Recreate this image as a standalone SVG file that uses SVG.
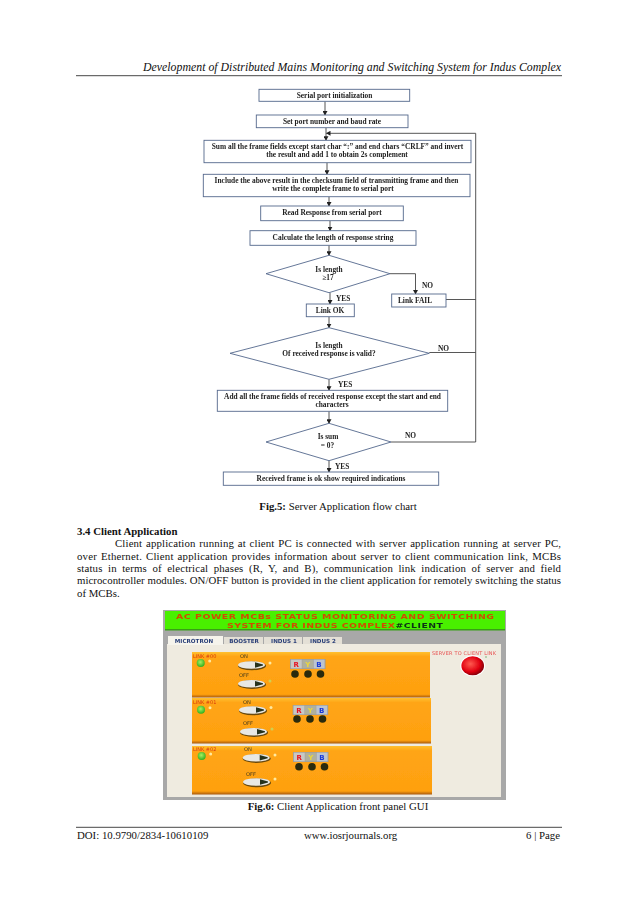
<svg xmlns="http://www.w3.org/2000/svg" xmlns:xlink="http://www.w3.org/1999/xlink" width="638" height="902" viewBox="0 0 638 902">
<style>
text{font-family:"Liberation Serif","Times New Roman",serif;fill:#111}
.body{font-size:10.8px}
.hd{font-size:11.8px;font-style:italic}
.cap{font-size:10.8px}
.b{font-weight:bold}
.fc{font-size:7.4px;font-weight:bold;text-anchor:middle;fill:#222}
.fl{font-size:7.4px;font-weight:bold;fill:#222}
.n{fill:#fff;stroke:#54688c;stroke-width:.9}
.c{fill:none;stroke:#444;stroke-width:.9}
.g text,.rgb{font-family:"DejaVu Sans",sans-serif}
.ban{font-size:7.8px;font-weight:bold;fill:#d04c00;text-anchor:middle}
.tab{font-size:5.6px;font-weight:bold;fill:#2a3f78;text-anchor:middle}
.lk{font-size:5px;fill:#d83a10}
.on{font-size:5.2px;fill:#443a20}
.rgb{font-size:7px;font-weight:bold;text-anchor:middle}
</style>
<defs>
<marker id="a" markerWidth="5" markerHeight="5" refX="4" refY="2.5" orient="auto" markerUnits="userSpaceOnUse"><path d="M0 0L4.5 2.5L0 5z" fill="#222"/></marker>
<filter id="s" x="-5%" y="-5%" width="110%" height="110%"><feGaussianBlur stdDeviation=".35"/></filter>
<filter id="s2" x="-5%" y="-5%" width="110%" height="110%"><feGaussianBlur stdDeviation=".45"/></filter>
<radialGradient id="gr" cx=".4" cy=".4" r=".6"><stop offset="0" stop-color="#ff5a50"/><stop offset=".7" stop-color="#e00010"/><stop offset="1" stop-color="#8c0008"/></radialGradient>
<radialGradient id="gl" cx=".45" cy=".4" r=".6"><stop offset="0" stop-color="#a8f060"/><stop offset="1" stop-color="#30b020"/></radialGradient>
<linearGradient id="or" x1="0" y1="0" x2="0" y2="1"><stop offset="0" stop-color="#ffc030"/><stop offset=".1" stop-color="#ffa514"/><stop offset=".93" stop-color="#ffa010"/><stop offset="1" stop-color="#a85808"/></linearGradient>
<g id="tog"><ellipse cx="0" cy=".8" rx="14" ry="4.4" fill="#6a4a10"/><ellipse cx="-.5" cy="0" rx="13.500" ry="3.800" fill="#e8e8e4"/><path d="M3 -2.800L11 -.5L11 .5L3 2.800z" fill="#26331f"/></g>
<g id="led"><circle r="4" fill="url(#gl)"/><circle cx="9" cy="-2" r="1.500" fill="#ffe9a0"/></g>
<g id="blk"><circle cx="0" r="3.800" fill="#2a2a10"/><circle cx="13" r="3.800" fill="#2a2a10"/><circle cx="25.500" r="3.800" fill="#2a2a10"/></g>
<g id="ryb"><rect width="35.500" height="10" fill="#9a9a9a"/><rect x=".8" y=".6" width="11" height="8.800" fill="#c8c8c4"/><rect x="12.200" y=".6" width="11" height="8.800" fill="#b0b09c"/><rect x="23.600" y=".6" width="11" height="8.800" fill="#bcc4d0"/><text class="rgb" x="6.300" y="7.800" style="fill:#e81020">R</text><text class="rgb" x="17.700" y="7.800" style="fill:#ecd83a">Y</text><text class="rgb" x="29" y="7.800" style="fill:#1838d8">B</text></g>
</defs>
<rect width="638" height="902" fill="#fff"/>
<g id="page-header">
<text class="hd" x="143" y="71" textLength="418">Development of Distributed Mains Monitoring and Switching System for Indus Complex</text>
<path d="M76 75.700H562" stroke="#333" stroke-width=".9"/>
</g>
<g filter="url(#s)">
<g id="connectors">
<path class="c" marker-end="url(#a)" d="M325 101.500V115"/>
<path class="c" marker-end="url(#a)" d="M326 127.700V140.300"/>
<path class="c" marker-end="url(#a)" d="M475.700 288V133.300H326.500"/>
<path class="c" marker-end="url(#a)" d="M327 162.700V174.300"/>
<path class="c" marker-end="url(#a)" d="M329 196.700V206"/>
<path class="c" marker-end="url(#a)" d="M330 220.700V230.700"/>
<path class="c" marker-end="url(#a)" d="M329 245.300V255.300"/>
<path class="c" marker-end="url(#a)" d="M390 273.700H415.500V294"/>
<path class="c" marker-end="url(#a)" d="M330 292.700V304"/>
<path class="c" d="M446 299.500H475.700"/>
<path class="c" marker-end="url(#a)" d="M329 316.700V327.700"/>
<path class="c" d="M429.300 352.500H475.700"/>
<path class="c" marker-end="url(#a)" d="M329 379.300V390.300"/>
<path class="c" marker-end="url(#a)" d="M329 411.300V423.300"/>
<path class="c" d="M391 442H475.700V288"/>
<path class="c" marker-end="url(#a)" d="M329 460.700V472"/>
<text class="fl" x="422" y="288">NO</text>
<text class="fl" x="336" y="300.500">YES</text>
<text class="fl" x="438" y="351">NO</text>
<text class="fl" x="338" y="387">YES</text>
<text class="fl" x="405" y="438">NO</text>
<text class="fl" x="335" y="469">YES</text>
</g>
<g id="n1"><rect class="n" x="259" y="89.300" width="150.700" height="12"/><text class="fc" x="334.500" y="97.800">Serial port initialization</text></g>
<g id="n2"><rect class="n" x="256.300" y="115" width="151.700" height="12.700"/><text class="fc" x="332" y="124">Set port number and baud rate</text></g>
<g id="n3"><rect class="n" x="204" y="140.300" width="267" height="22.400"/><text class="fc" x="337.500" y="149">Sum all the frame fields except start char “:” and end chars “CRLF” and invert</text><text class="fc" x="337" y="157">the result and add 1 to obtain 2s complement</text></g>
<g id="n4"><rect class="n" x="203.300" y="174.300" width="266.700" height="22.400"/><text class="fc" x="336.500" y="183">Include the above result in the checksum field of transmitting frame and then</text><text class="fc" x="333" y="191">write the complete frame to serial port</text></g>
<g id="n5"><rect class="n" x="260.700" y="206" width="142.600" height="14.700"/><text class="fc" x="332" y="214.800">Read Response from serial port</text></g>
<g id="n6"><rect class="n" x="250" y="230.700" width="166" height="14.600"/><text class="fc" x="333" y="239.500">Calculate the length of response string</text></g>
<g id="d1"><path class="n" d="M329 255.300L390 273.700L329 292.700L266 273.700z"/><text class="fc" x="329" y="271.500">Is length</text><text class="fc" x="328" y="279.500">≥17</text></g>
<g id="n7"><rect class="n" x="306.300" y="304" width="48" height="12.700"/><text class="fc" x="330" y="312.800">Link OK</text></g>
<g id="n8"><rect class="n" x="391.700" y="294" width="54.300" height="13"/><text class="fc" x="415" y="303">Link FAIL</text></g>
<g id="d2"><path class="n" d="M329 327.700L429.300 353.300L329 379.300L230 353.300z"/><text class="fc" x="329" y="347.500">Is length</text><text class="fc" x="329" y="356">Of received response is valid?</text></g>
<g id="n9"><rect class="n" x="217.300" y="390.300" width="230.400" height="21"/><text class="fc" x="332.500" y="398.700">Add all the frame fields of received response except the start and end</text><text class="fc" x="332" y="406.500">characters</text></g>
<g id="d3"><path class="n" d="M329 423.300L391 442L329 460.700L266 442z"/><text class="fc" x="328" y="439">Is sum</text><text class="fc" x="327.500" y="447.500">= 0?</text></g>
<g id="n10"><rect class="n" x="223.300" y="472" width="215.400" height="13.300"/><text class="fc" x="331" y="480.800">Received frame is ok show required indications</text></g>
</g>
<g id="page-text">
<text class="cap" x="338" y="510" text-anchor="middle"><tspan class="b">Fig.5:</tspan> Server Application flow chart</text>
<text class="body b" x="77" y="535">3.4 Client Application</text>
<text class="body" x="115" y="547" textLength="446" style="word-spacing:.9px">Client application running at client PC is connected with server application running at server PC,</text>
<text class="body" x="77" y="559.500" textLength="484" style="word-spacing:1.1px">over Ethernet. Client application provides information about server to client communication link, MCBs</text>
<text class="body" x="77" y="572" textLength="484" style="word-spacing:2.6px">status in terms of electrical phases (R, Y, and B), communication link indication of server and field</text>
<text class="body" x="77" y="584" textLength="484">microcontroller modules. ON/OFF button is provided in the client application for remotely switching the status</text>
<text class="body" x="77" y="596.500">of MCBs.</text>
</g>
<g id="gui" class="g" filter="url(#s2)">
<rect x="163" y="610" width="343" height="190" fill="#a8a8a8"/>
<rect x="165" y="611" width="340" height="19" fill="#48f000"/>
<rect x="165" y="629" width="340" height="1.500" fill="#38a018"/>
<text class="ban" transform="translate(335 619) scale(1.2 1)" textLength="265">AC POWER MCBs STATUS MONITORING AND SWITCHING</text>
<text class="ban" transform="translate(335 628) scale(1.2 1)" textLength="180">SYSTEM FOR INDUS COMPLEX<tspan style="fill:#103018">#CLIENT</tspan></text>
<rect x="167" y="644" width="334" height="153" fill="#efebe0"/>
<rect x="168" y="636" width="55" height="9" fill="#f6f4ec"/>
<rect x="224" y="637" width="39" height="7" fill="#e4e0d6"/>
<rect x="264" y="637" width="38" height="7" fill="#e4e0d6"/>
<rect x="303" y="637" width="39" height="7" fill="#e4e0d6"/>
<text class="tab" x="194" y="642.800">MICROTRON</text>
<text class="tab" x="244" y="642.800">BOOSTER</text>
<text class="tab" x="284" y="642.800">INDUS 1</text>
<text class="tab" x="323" y="642.800">INDUS 2</text>
<text class="lk" x="432" y="654.500" textLength="64" style="fill:#e85050">SERVER TO CLIENT LINK</text>
<ellipse cx="472.700" cy="665.800" rx="12.500" ry="10.500" fill="#fff"/>
<ellipse cx="472.700" cy="665.800" rx="11.300" ry="9.500" fill="url(#gr)"/>
<circle cx="486" cy="657" r=".8" fill="#70b070"/>
<rect x="192" y="652" width="238" height="45.500" fill="url(#or)"/>
<rect x="192" y="698" width="239" height="45.500" fill="url(#or)"/>
<rect x="192" y="746" width="240" height="48.500" fill="url(#or)"/>
<g id="row0">
<text class="lk" x="193" y="657.800">LINK #00</text>
<use xlink:href="#led" href="#led" x="200.700" y="663"/>
<text class="on" x="240" y="657.800">ON</text>
<use xlink:href="#tog" href="#tog" x="252" y="665"/>
<circle cx="270" cy="663" r="1.500" fill="#ffe9a0"/>
<text class="on" x="239" y="676.500">OFF</text>
<use xlink:href="#tog" href="#tog" x="252" y="683.700"/>
<circle cx="270" cy="681" r="1.500" fill="#d0d050"/>
<use xlink:href="#ryb" href="#ryb" x="290" y="659"/>
<use xlink:href="#blk" href="#blk" x="295" y="674"/>
</g>
<g id="row1">
<text class="lk" x="193" y="703.800">LINK #01</text>
<use xlink:href="#led" href="#led" x="201" y="709.700"/>
<text class="on" x="243" y="703.500">ON</text>
<use xlink:href="#tog" href="#tog" x="253" y="710"/>
<circle cx="271" cy="707.500" r="1.500" fill="#ffe9a0"/>
<text class="on" x="243" y="724.500">OFF</text>
<use xlink:href="#tog" href="#tog" x="254" y="731.700"/>
<circle cx="272" cy="729" r="1.500" fill="#d0d050"/>
<use xlink:href="#ryb" href="#ryb" x="292.700" y="705"/>
<use xlink:href="#blk" href="#blk" x="297" y="719"/>
</g>
<g id="row2">
<text class="lk" x="193" y="750.500">LINK #02</text>
<use xlink:href="#led" href="#led" x="201.700" y="756"/>
<text class="on" x="244" y="750.500">ON</text>
<use xlink:href="#tog" href="#tog" x="256.700" y="757.700"/>
<circle cx="275" cy="755" r="1.500" fill="#ffe9a0"/>
<text class="on" x="246" y="775.500">OFF</text>
<use xlink:href="#tog" href="#tog" x="257" y="782"/>
<circle cx="275" cy="779" r="1.500" fill="#ffe9a0"/>
<use xlink:href="#ryb" href="#ryb" x="293" y="752"/>
<use xlink:href="#blk" href="#blk" x="299" y="766.700"/>
</g>
</g>
<g id="page-footer">
<text class="cap" x="338" y="810" text-anchor="middle"><tspan class="b">Fig.6:</tspan> Client Application front panel GUI</text>
<path d="M76 827.300H562" stroke="#333" stroke-width=".9"/>
<text class="body" x="77" y="838.500">DOI: 10.9790/2834-10610109</text>
<text class="body" x="304" y="838.500">www.iosrjournals.org</text>
<text class="body" x="560" y="838.500" text-anchor="end">6 | Page</text>
</g>
</svg>
